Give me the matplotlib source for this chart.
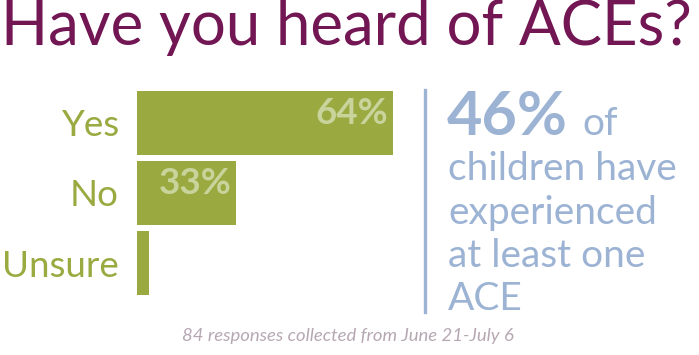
import matplotlib
matplotlib.use('Agg')
import matplotlib.pyplot as plt

# ============================================================================
# DATA
# ============================================================================
categories = ['Yes', 'No', 'Unsure']
bar_lengths = [64, 24.8, 3]          # drawn lengths (%)
value_labels = ['64%', '33%', '']
stat_value = '46%'
stat_lines = ['children have', 'experienced', 'at least one', 'ACE']
title = 'Have you heard of ACEs?'
footer = '84 responses collected from June 21-July 6'

# ============================================================================
# STYLE
# ============================================================================
W, H = 699, 355
DPI = 100
FONT = ['Lato', 'DejaVu Sans']
TITLE_COLOR = '#721654'
GREEN = '#9aaa40'
LIGHT_GREEN = '#c8d49c'
BLUE = '#9cb3d4'
FOOT_COLOR = '#b6a8b3'

plt.rcParams['font.family'] = FONT

fig = plt.figure(figsize=(W / DPI, H / DPI), dpi=DPI)


def fx(px):
    return px / W


def fy(py):
    return 1 - py / H


# title
fig.text(fx(1), fy(45), title, fontsize=44.5, color=TITLE_COLOR,
         ha='left', va='baseline')

# bars: axes spans x 137 -> 537 px (0..100 %), y 91 -> 295 px
bar_h = 0.91
ax = fig.add_axes([fx(137), fy(295), 400 / W, 204 / H])
ypos = list(range(len(categories)))
ax.barh(ypos, bar_lengths, height=bar_h, color=GREEN)
ax.set_xlim(0, 100)
ax.set_ylim(len(categories) - 1 + bar_h / 2, -bar_h / 2)
for side in ax.spines.values():
    side.set_visible(False)
ax.set_xticks([])
ax.set_yticks(ypos)
ax.set_yticklabels(categories, fontsize=26.5, color=GREEN)
ax.tick_params(axis='y', length=0, pad=13)

for y, length, lab in zip(ypos, bar_lengths, value_labels):
    if lab:
        ax.annotate(lab, xy=(length, y - bar_h / 2), xytext=(-5, -6),
                    textcoords='offset pixels', ha='right', va='top',
                    fontsize=26.5, fontweight='bold', color=LIGHT_GREEN)

# divider line
fig.add_artist(plt.Line2D([fx(425), fx(425)], [fy(90), fy(312)],
                          color=BLUE, linewidth=2.4))

# stat text
t = fig.text(fx(447), fy(135), stat_value, fontsize=44, fontweight='bold',
             color=BLUE, ha='left', va='baseline')
fig.canvas.draw()
bb = t.get_window_extent()
fig.text(fx(bb.x1 + 14), fy(135), 'of', fontsize=28, color=BLUE,
         ha='left', va='baseline')
for i, line in enumerate(stat_lines):
    fig.text(fx(448), fy(180 + 43.5 * i), line, fontsize=28, color=BLUE,
             ha='left', va='baseline')

# footer
fig.text(fx(348), fy(341), footer, fontsize=13.3, style='italic',
         color=FOOT_COLOR, ha='center', va='baseline')

fig.savefig('out.png', dpi=DPI)
